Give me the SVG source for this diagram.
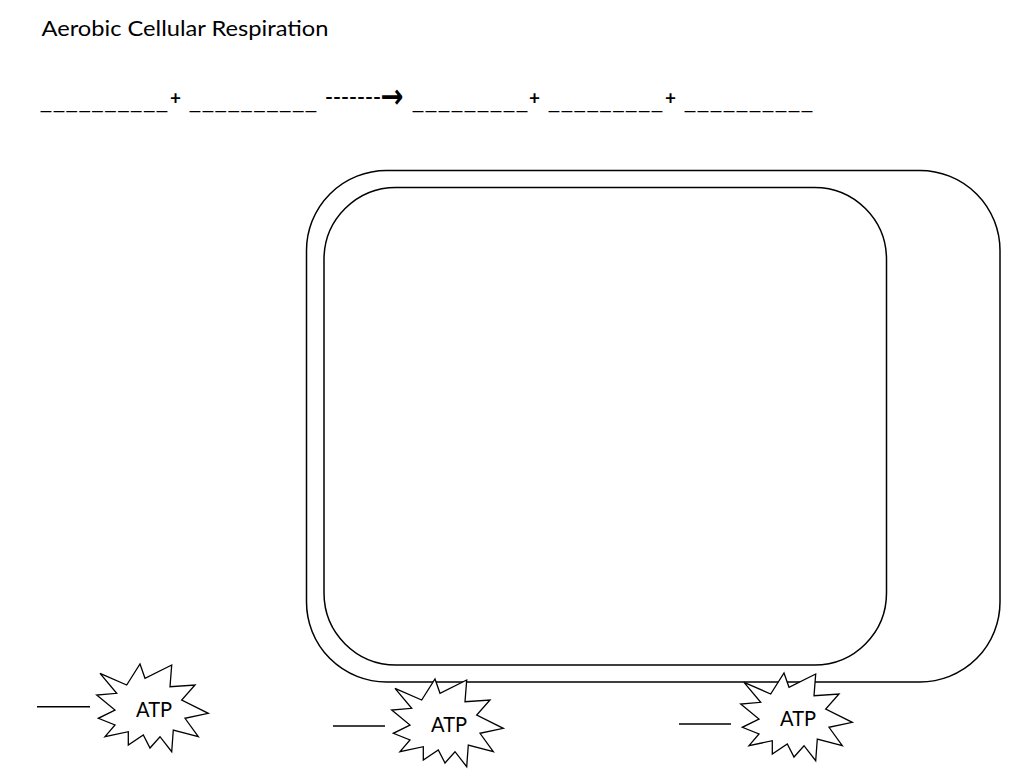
<svg xmlns="http://www.w3.org/2000/svg" xmlns:xlink="http://www.w3.org/1999/xlink" width="1024" height="776" viewBox="0 0 1024 776">
<style>
.t{font-family:Lato,"Open Sans","Liberation Sans",sans-serif;fill:#000}
.us{font-size:16px;font-weight:bold}
.pl{font-size:18px;font-weight:bold}
.atp{font-size:21px}
.cell{fill:none;stroke:#000;stroke-width:1.5}
.burst{fill:#fff;stroke:#000;stroke-width:1.3;stroke-linejoin:miter}
.blank{stroke:#000;stroke-width:1.4}
</style>
<defs>
<polygon id="burstShape" class="burst" points="100,673.3 126.7,685 140,664 145,678.3 171.7,665 170,686.7 195,685 181.7,700 208.3,713.3 185,718.3 198.3,736.7 173.3,730 171.7,751.7 160,736.7 150,748 143.3,735 128.3,745 128.3,731.7 105,736.7 115,725 98.3,718.3 115,710 96.7,695 116.7,693.3"/>
</defs>
<rect width="1024" height="776" fill="#fff"/>
<g id="title">
<text class="t" x="41.5" y="35.5" font-size="21.5" textLength="287" lengthAdjust="spacingAndGlyphs">Aerobic Cellular Respiration</text>
</g>
<g id="equation">
<text class="t us" x="39.5" y="109.5" textLength="129" lengthAdjust="spacingAndGlyphs">__________</text>
<text class="t pl" x="170" y="105" textLength="11" lengthAdjust="spacingAndGlyphs">+</text>
<text class="t us" x="188.5" y="109.5" textLength="129" lengthAdjust="spacingAndGlyphs">__________</text>
<text class="t pl" x="325" y="103.5" textLength="56" lengthAdjust="spacingAndGlyphs">-------</text>
<text x="380.5" y="108" font-family="DejaVu Sans,sans-serif" font-size="34" font-weight="bold" textLength="23" lengthAdjust="spacingAndGlyphs">→</text>
<text class="t us" x="411.5" y="109.5" textLength="117" lengthAdjust="spacingAndGlyphs">_________</text>
<text class="t pl" x="529" y="105" textLength="11" lengthAdjust="spacingAndGlyphs">+</text>
<text class="t us" x="547.5" y="109.5" textLength="116" lengthAdjust="spacingAndGlyphs">_________</text>
<text class="t pl" x="665" y="105" textLength="11" lengthAdjust="spacingAndGlyphs">+</text>
<text class="t us" x="683.5" y="109.5" textLength="130" lengthAdjust="spacingAndGlyphs">__________</text>
</g>
<g id="cell-outer">
<rect class="cell" x="306.5" y="170.5" width="693.5" height="511.5" rx="80" ry="80"/>
</g>
<g id="cell-inner">
<rect class="cell" x="324" y="187.5" width="562.5" height="477.5" rx="72" ry="72"/>
</g>
<g id="connectors"></g>
<g id="atp1">
<line class="blank" x1="37" y1="706.7" x2="90" y2="706.7"/>
<use xlink:href="#burstShape" href="#burstShape"/>
<text class="t atp" x="136" y="716.5" textLength="36" lengthAdjust="spacingAndGlyphs">ATP</text>
</g>
<g id="atp2">
<line class="blank" x1="333" y1="726" x2="385" y2="726"/>
<use xlink:href="#burstShape" href="#burstShape" transform="translate(295,15)"/>
<text class="t atp" x="431" y="731.5" textLength="36" lengthAdjust="spacingAndGlyphs">ATP</text>
</g>
<g id="atp3">
<line class="blank" x1="679" y1="724" x2="731" y2="724"/>
<use xlink:href="#burstShape" href="#burstShape" transform="translate(644,9)"/>
<text class="t atp" x="780" y="725.5" textLength="36" lengthAdjust="spacingAndGlyphs">ATP</text>
</g>
</svg>
